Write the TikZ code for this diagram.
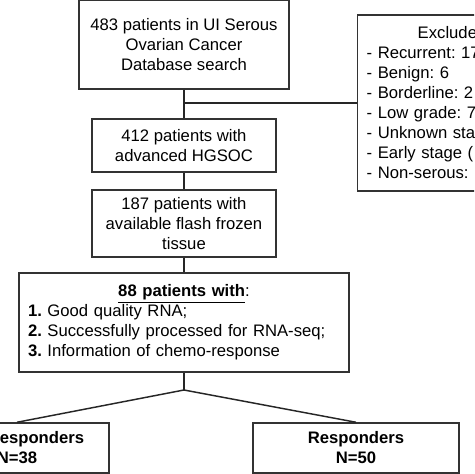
\documentclass[tikz,border=0pt]{standalone}
\usepackage{fontspec}
\setmainfont{Liberation Sans}
\usetikzlibrary{positioning}
\newlength{\pxu}
\setlength{\pxu}{0.75pt}
\frenchspacing

\begin{document}
\begin{tikzpicture}[x=0.75pt, y=-0.75pt,
    every node/.style={font=\fontsize{12.5}{15}\selectfont},
    flowbox/.style={draw=black!80, line width=1.1pt, align=center, inner sep=0pt},
    outcome/.style={flowbox, font=\fontsize{12.5}{15}\selectfont\bfseries},
    link/.style={draw=black!85, line width=1.1pt}]
    \useasboundingbox (0,0) rectangle (474,474);
    \clip (0,0) rectangle (474,474);
    \node[flowbox, minimum width=210\pxu, minimum height=89\pxu] (search) at (184,44.5)
        {483 patients in UI Serous\\Ovarian Cancer\\Database search};
    \node[flowbox, anchor=west, align=left, text width=150\pxu, inner xsep=9\pxu,
        minimum height=176\pxu] (excl) at (357,103)
        {\hspace*{51\pxu}Excluded\\- Recurrent: 17\\- Benign: 6\\- Borderline: 2\\- Low grade: 7\\- Unknown stage\\- Early stage (\\- Non-serous:};
    \node[flowbox, minimum width=184\pxu, minimum height=53\pxu] (hgsoc) at (184,145.5)
        {412 patients with\\advanced HGSOC};
    \node[flowbox, minimum width=184\pxu, minimum height=67\pxu] (frozen) at (184,223.5)
        {187 patients with\\available flash frozen\\tissue};
    \node[flowbox, align=left, text width=312\pxu, minimum width=330\pxu,
        minimum height=99\pxu] (cohort) at (184,322.5)
        {\makebox[\linewidth]{\underline{\textbf{88 patients with}}:}\\
         \textbf{1.} Good quality RNA;\\
         \textbf{2.} Successfully processed for RNA-seq;\\
         \textbf{3.} Information of chemo-response};
    \coordinate (split) at (184,390);
    \node[outcome, minimum width=184\pxu, minimum height=50\pxu] (nonresp) at (17,448)
        {Non-Responders\\N=38};
    \node[outcome, minimum width=206\pxu, minimum height=50\pxu] (resp) at (356,448)
        {Responders\\N=50};
    % connectors
    \draw[link] (search) -- (hgsoc);
    \draw[link] (search.south |- excl.west) -- (excl);
    \draw[link] (hgsoc) -- (frozen);
    \draw[link] (frozen) -- (cohort);
    \draw[link] (cohort) -- (split);
    \draw[link] (split) -- (nonresp.north);
    \draw[link] (split) -- (resp.north);
\end{tikzpicture}
\end{document}
